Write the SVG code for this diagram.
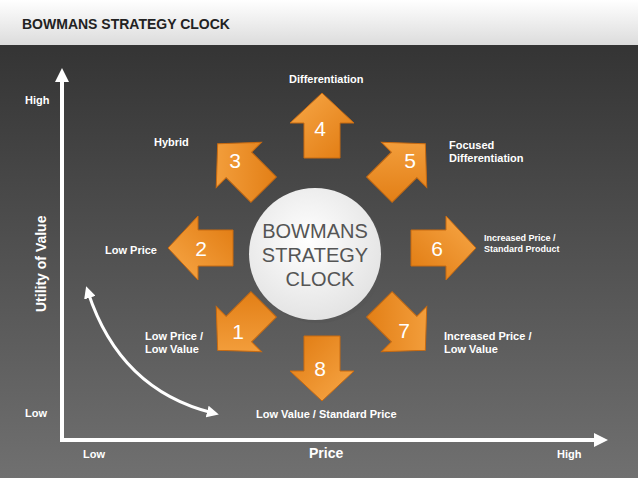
<svg xmlns="http://www.w3.org/2000/svg" width="638" height="478" viewBox="0 0 638 478">
<defs>
<linearGradient id="hd" x1="0" y1="0" x2="0" y2="1"><stop offset="0" stop-color="#ffffff"/><stop offset="1" stop-color="#dcdcdc"/></linearGradient>
<linearGradient id="bg" x1="0" y1="0" x2="0" y2="1"><stop offset="0" stop-color="#2e2e2e"/><stop offset="1" stop-color="#707070"/></linearGradient>
<linearGradient id="og" x1="0" y1="0" x2="1" y2="1"><stop offset="0" stop-color="#f8a848"/><stop offset="1" stop-color="#e07a10"/></linearGradient>
<radialGradient id="cg" cx="0.45" cy="0.4" r="0.6"><stop offset="0" stop-color="#ffffff"/><stop offset="1" stop-color="#e4e4e4"/></radialGradient>
<polygon id="arr" points="0,-33 32,-3 18,-3 18,32 -18,32 -18,-3 -32,-3"/>
<marker id="ah" viewBox="0 0 10 10" refX="5" refY="5" markerWidth="4" markerHeight="4" orient="auto-start-reverse"><path d="M0,0 L10,5 L0,10 z" fill="#fff"/></marker>
</defs>
<style>
.lb{font-family:"Liberation Sans",Arial,sans-serif;font-weight:bold;font-size:11px;fill:#fff}
.sm{font-size:9px}
.num{font-family:"Liberation Sans",Arial,sans-serif;font-size:21px;fill:#fff;text-anchor:middle}
.a{fill:url(#og);stroke:#c86a10;stroke-width:1}
.ax{stroke:#fff;stroke-width:4;fill:none}
</style>
<rect width="638" height="478" fill="url(#bg)"/>
<rect width="638" height="45" fill="url(#hd)"/>
<text x="22" y="29" font-family="Liberation Sans,Arial,sans-serif" font-weight="bold" font-size="14" fill="#222">BOWMANS STRATEGY CLOCK</text>
<g id="axes">
<path class="ax" d="M62,440 V80"/><polygon points="62,68 55,82 69,82" fill="#fff"/>
<path class="ax" d="M60,440 H595"/><polygon points="608,440 594,433 594,447" fill="#fff"/>
</g>
<g id="connectors">
<path d="M88,292 Q120,390 213,413" stroke="#fff" stroke-width="3" fill="none" marker-start="url(#ah)" marker-end="url(#ah)"/>
</g>
<g id="clock">
<circle cx="318" cy="257" r="66" fill="#555" opacity="0.6"/>
<circle cx="315" cy="254" r="66" fill="url(#cg)"/>
<text x="315" y="238" font-family="Liberation Sans,Arial,sans-serif" font-size="20" fill="#555" text-anchor="middle">BOWMANS</text>
<text x="315" y="262" font-family="Liberation Sans,Arial,sans-serif" font-size="20" fill="#555" text-anchor="middle">STRATEGY</text>
<text x="320" y="286" font-family="Liberation Sans,Arial,sans-serif" font-size="20" fill="#555" text-anchor="middle">CLOCK</text>
</g>
<g id="n4"><use href="#arr" class="a" transform="translate(322,126)"/><text class="num" x="320" y="136">4</text></g>
<g id="n5"><use href="#arr" class="a" transform="translate(402,167) rotate(45)"/><text class="num" x="410" y="168">5</text></g>
<g id="n6"><use href="#arr" class="a" transform="translate(443,248) rotate(90)"/><text class="num" x="437" y="256">6</text></g>
<g id="n7"><use href="#arr" class="a" transform="translate(402,327) rotate(135)"/><text class="num" x="404" y="338">7</text></g>
<g id="n8"><use href="#arr" class="a" transform="translate(322,368) rotate(180)"/><text class="num" x="320" y="376">8</text></g>
<g id="n1"><use href="#arr" class="a" transform="translate(241,327) rotate(-135)"/><text class="num" x="238" y="339">1</text></g>
<g id="n2"><use href="#arr" class="a" transform="translate(201,248) rotate(-90)"/><text class="num" x="201" y="256">2</text></g>
<g id="n3"><use href="#arr" class="a" transform="translate(241,167) rotate(-45)"/><text class="num" x="235" y="168">3</text></g>
<g id="labels">
<text class="lb" x="289" y="83">Differentiation</text>
<text class="lb" x="154" y="146">Hybrid</text>
<text class="lb" x="449" y="149">Focused</text>
<text class="lb" x="449" y="162">Differentiation</text>
<text class="lb" x="105" y="254">Low Price</text>
<text class="lb sm" x="484" y="241">Increased Price /</text>
<text class="lb sm" x="484" y="252">Standard Product</text>
<text class="lb" x="145" y="340">Low Price /</text>
<text class="lb" x="145" y="353">Low Value</text>
<text class="lb" x="444" y="340">Increased Price /</text>
<text class="lb" x="444" y="353">Low Value</text>
<text class="lb" x="256" y="418">Low Value / Standard Price</text>
<text class="lb" x="25" y="104">High</text>
<text class="lb" x="25" y="417">Low</text>
<text class="lb" x="83" y="458">Low</text>
<text class="lb" x="557" y="458">High</text>
<text x="309" y="458" font-family="Liberation Sans,Arial,sans-serif" font-weight="bold" font-size="14" fill="#fff">Price</text>
<text transform="translate(46,312) rotate(-90)" font-family="Liberation Sans,Arial,sans-serif" font-weight="bold" font-size="14" fill="#fff">Utility of Value</text>
</g>
</svg>
